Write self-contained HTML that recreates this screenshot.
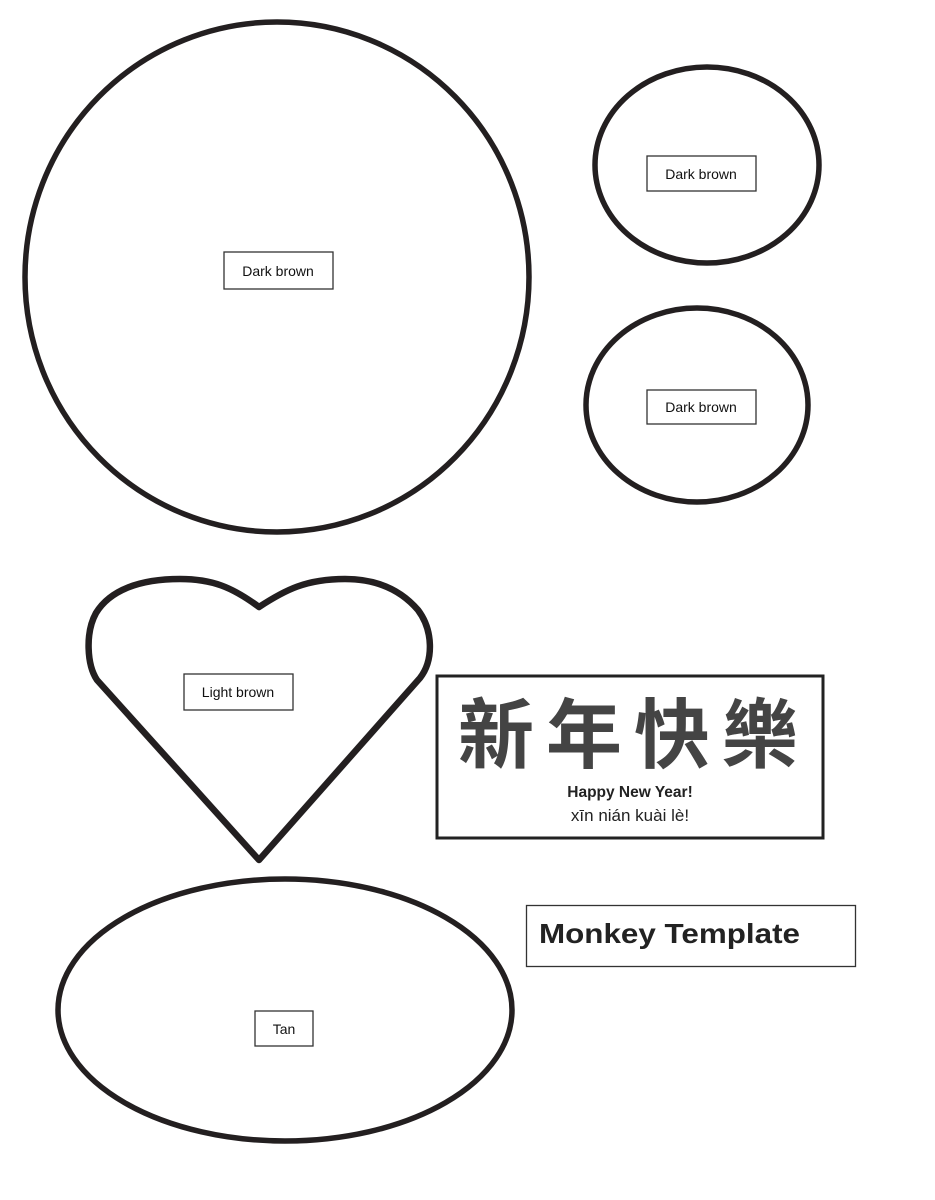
<!DOCTYPE html>
<html><head><meta charset="utf-8"><style>html,body{margin:0;padding:0;background:#fff}svg{display:block}</style></head>
<body>
<svg width="935" height="1200" viewBox="0 0 935 1200" xmlns="http://www.w3.org/2000/svg">
<rect width="935" height="1200" fill="#fff"/>
<g fill="none" stroke="#231f20" stroke-width="5.5">
<ellipse cx="277" cy="277" rx="252" ry="255"/>
<ellipse cx="707" cy="165" rx="112" ry="98"/>
<ellipse cx="697" cy="405" rx="111" ry="97"/>
<ellipse cx="285" cy="1010" rx="227" ry="131"/>
<path stroke-width="6.5" stroke-linejoin="round" d="M259,607 C232,587 212,579 180,579 C140,579 110,590 96,613 C85,633 87,665 97,680 L259,860 L420,678 C434,660 433,630 418,610 C400,589 375,579 345,579 C306,579 285,590 259,607 Z"/>
</g>
<g fill="#fff" stroke="#333" stroke-width="1.3">
<rect x="224" y="252" width="109" height="37"/>
<rect x="647" y="156" width="109" height="35"/>
<rect x="647" y="390" width="109" height="34"/>
<rect x="184" y="674" width="109" height="36"/>
<rect x="255" y="1011" width="58" height="35"/>
</g>
<g font-family="Liberation Sans, sans-serif" font-size="14" fill="#111" text-anchor="middle">
<text x="278" y="276">Dark brown</text>
<text x="701" y="179">Dark brown</text>
<text x="701" y="412">Dark brown</text>
<text x="238" y="697">Light brown</text>
<text x="284" y="1034">Tan</text>
</g>
<rect x="437" y="676" width="386" height="162" fill="none" stroke="#222" stroke-width="3"/>
<g font-family="'Noto Sans CJK TC','Noto Sans CJK SC',sans-serif" font-weight="bold" font-size="76" fill="#444" text-anchor="middle">
<text x="496" y="762">新</text>
<text x="584" y="762">年</text>
<text x="672" y="762">快</text>
<text x="760" y="762">樂</text>
</g>
<text x="630" y="797" text-anchor="middle" font-family="Liberation Sans, sans-serif" font-weight="bold" font-size="15.5" fill="#222">Happy New Year!</text>
<text x="630" y="821" text-anchor="middle" font-family="Liberation Sans, sans-serif" font-size="17" fill="#222">xīn nián kuài lè!</text>
<rect x="526.5" y="905.5" width="329" height="61" fill="none" stroke="#333" stroke-width="1.3"/>
<text x="539" y="943" font-family="Liberation Sans, sans-serif" font-weight="bold" font-size="28" fill="#222" textLength="261" lengthAdjust="spacingAndGlyphs">Monkey Template</text>
</svg>
</body></html>
